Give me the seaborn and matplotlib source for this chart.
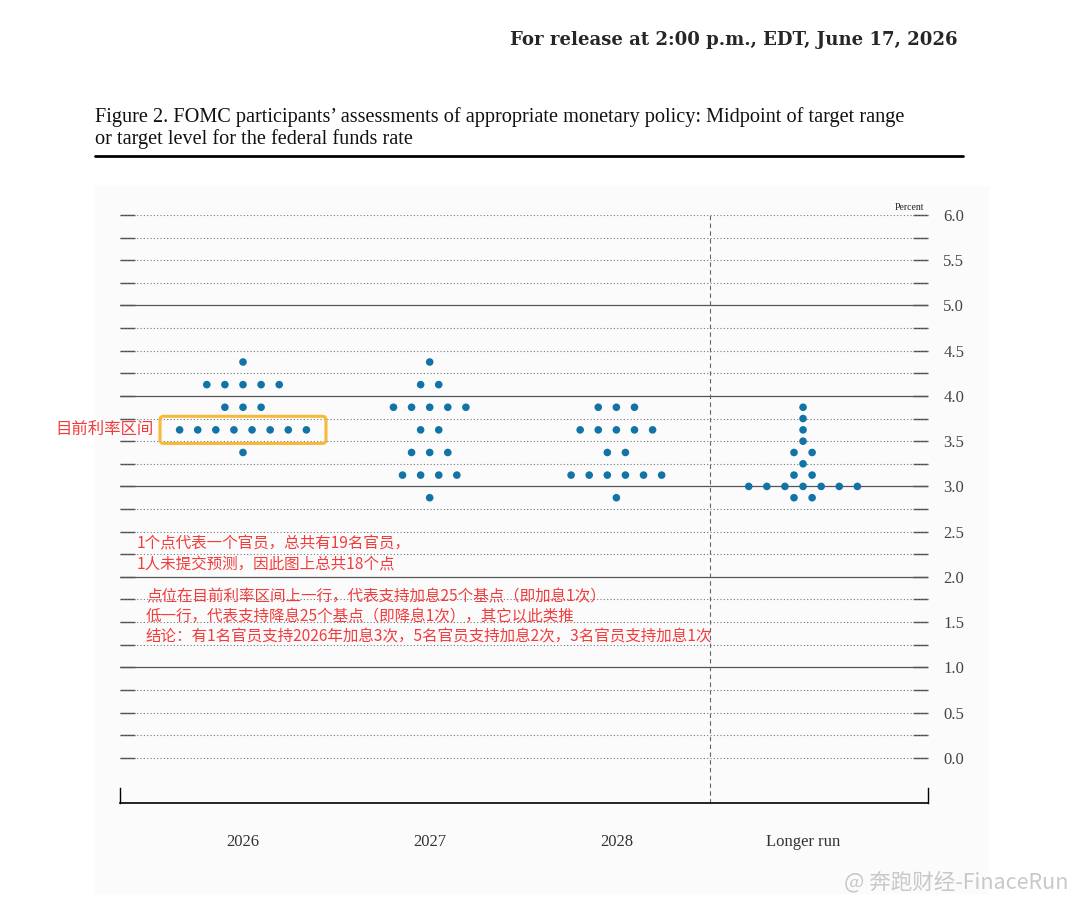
import pandas as pd
import matplotlib
matplotlib.use("Agg")
import matplotlib.pyplot as plt
from matplotlib.patches import FancyBboxPatch
import seaborn as sns

# dot plot data: midpoint levels and number of participants at each level
periods = ["2026", "2027", "2028", "Longer run"]
rates_2026 = [4.375, 4.125, 3.875, 3.625, 3.375]
counts_2026 = [1, 5, 3, 8, 1]
rates_2027 = [4.375, 4.125, 3.875, 3.625, 3.375, 3.125, 2.875]
counts_2027 = [1, 2, 5, 2, 3, 4, 1]
rates_2028 = [3.875, 3.625, 3.375, 3.125, 2.875]
counts_2028 = [3, 5, 2, 6, 1]
rates_lr = [3.875, 3.75, 3.625, 3.5, 3.375, 3.25, 3.125, 3.0, 2.875]
counts_lr = [1, 1, 1, 1, 2, 1, 2, 7, 2]
current_rate = 3.625  # current target range midpoint (highlighted row)

y_labels = ["0.0", "0.5", "1.0", "1.5", "2.0", "2.5", "3.0", "3.5", "4.0", "4.5", "5.0", "5.5", "6.0"]

header = "For release at 2:00 p.m., EDT, June 17, 2026"
title = ("Figure 2. FOMC participants\u2019 assessments of appropriate monetary policy: Midpoint of target range\n"
         "or target level for the federal funds rate")
note1 = "1个点代表一个官员，总共有19名官员，\n1人未提交预测，因此图上总共18个点"
note2 = ("点位在目前利率区间上一行，代表支持加息25个基点（即加息1次）\n"
         "低一行，代表支持降息25个基点（即降息1次），其它以此类推\n"
         "结论：有1名官员支持2026年加息3次，5名官员支持加息2次，3名官员支持加息1次")
box_label = "目前利率区间"
watermark = "@ 奔跑财经-FinaceRun"

# build one row per dot
step = 0.097
rows = []
for i, (rates, counts) in enumerate([(rates_2026, counts_2026), (rates_2027, counts_2027),
                                     (rates_2028, counts_2028), (rates_lr, counts_lr)]):
    for r, n in zip(rates, counts):
        for k in range(n):
            rows.append({"period": periods[i], "rate": r, "x": i + (k - (n - 1) / 2) * step})
df = pd.DataFrame(rows)

sns.set_style("white")
plt.rcParams["font.family"] = ["Liberation Serif", "DejaVu Serif"]

fig = plt.figure(figsize=(10.77, 9.08), dpi=100)
ax = fig.add_axes([0.1114, 0.1156, 0.7502, 0.6476])
ax.set_facecolor("none")

# faint scan background
fig.patches.append(plt.Rectangle((0.088, 0.015), 0.83, 0.78, transform=fig.transFigure,
                                 facecolor="#fbfbfb", edgecolor="none", zorder=-10))

# horizontal guide lines every 0.25
for v in [j * 0.25 for j in range(25)]:
    solid = v in (1.0, 2.0, 3.0, 4.0, 5.0)
    ax.axhline(v, color="#555555" if solid else "#777777", lw=0.9 if solid else 0.8,
               ls="-" if solid else (0, (1, 2)), zorder=1)

# separator between projections and longer run
ax.plot([2.5, 2.5], [-0.5, 6.0], color="#666666", lw=0.8, ls=(0, (4, 3)), zorder=1)

sns.scatterplot(data=df, x="x", y="rate", ax=ax, color="#1273a6", s=30,
                edgecolor="none", zorder=3, legend=False)

ax.set_xlim(-0.659, 3.669)
ax.set_ylim(-0.5, 6.0)

# x axis: category labels centered between boundary ticks
ax.set_xticks(range(4))
ax.set_xticklabels(periods, fontsize=12, color="#333333")
ax.set_xticks([-0.5, 0.5, 1.5, 2.5, 3.5], minor=True)
ax.tick_params(axis="x", which="major", length=0, pad=22)
ax.tick_params(axis="x", which="minor", direction="in", length=10, width=1, color="black")
ax.set_xlabel("")
ax.set_ylabel("")

# y axis: labels on right, short ticks both sides
ax.set_yticks([j * 0.5 for j in range(13)])
ax.set_yticklabels(y_labels, fontsize=12, color="#444444")
ax.set_yticks([j * 0.25 for j in range(25)], minor=True)
ax.tick_params(axis="y", which="both", left=True, right=True, labelleft=False, labelright=True,
               direction="in", length=11, width=1, color="#444444", pad=11)

ax.spines["top"].set_visible(False)
ax.spines["bottom"].set_color("black")
ax.spines["bottom"].set_linewidth(1.2)
for side in ["left", "right"]:
    ax.spines[side].set_bounds(-0.5, -0.33)
    ax.spines[side].set_color("black")
    ax.spines[side].set_linewidth(1.0)

ax.text(0.995, 6.03, "Percent", transform=ax.get_yaxis_transform(), ha="right", va="bottom",
        fontsize=7, color="#222222")

# highlight current rate row for 2026
n_cur = counts_2026[rates_2026.index(current_rate)]
half = (n_cur - 1) / 2 * step + 0.105
box = FancyBboxPatch((-half, current_rate - 0.15), 2 * half, 0.30,
                     boxstyle="round,pad=0,rounding_size=0.02", fill=False,
                     edgecolor="#f7b93a", lw=2.2, zorder=4, mutation_aspect=2)
ax.add_patch(box)
cjk = ["Noto Sans CJK SC", "DejaVu Sans"]
ax.text(-half - 0.035, current_rate, box_label, ha="right", va="center", fontsize=11.8,
        color="#f23c3c", family=cjk, clip_on=False)

ax.text(-0.57, 2.05, note1, ha="left", va="bottom", fontsize=11.2, color="#f23c3c",
        family=cjk, linespacing=1.25)
ax.text(-0.52, 1.24, note2, ha="left", va="bottom", fontsize=11.2, color="#f23c3c",
        family=cjk, linespacing=1.25)

# header, title and rule
fig.text(0.889, 0.956, header, ha="right", va="center", fontsize=13.1, fontweight="bold",
         family=["DejaVu Serif"])
fig.text(0.088, 0.859, title, ha="left", va="center", fontsize=14.6, linespacing=1.15,
         color="#111111")
fig.add_artist(plt.Line2D([0.088, 0.894], [0.828, 0.828], transform=fig.transFigure,
                          color="black", lw=2))

fig.text(0.992, 0.028, watermark, ha="right", va="center", fontsize=15.5, color="#c8c8c8",
         family=["Noto Sans CJK SC", "DejaVu Sans"])

fig.savefig("out.png", dpi=100)
